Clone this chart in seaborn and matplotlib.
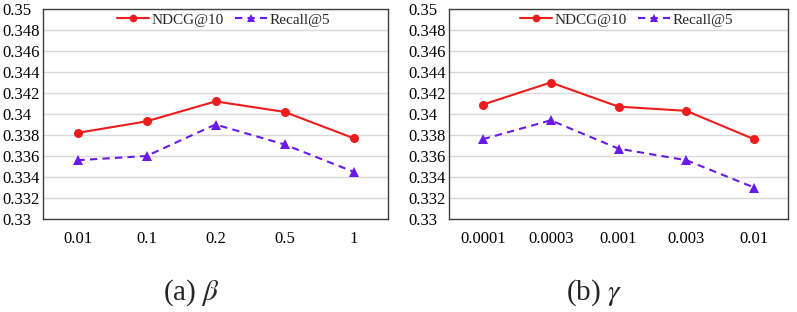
import matplotlib
matplotlib.use("Agg")
import matplotlib.pyplot as plt
import seaborn as sns
import pandas as pd

beta_labels = ["0.01", "0.1", "0.2", "0.5", "1"]
beta_ndcg = [0.3382, 0.3393, 0.3412, 0.3402, 0.3377]
beta_recall = [0.3356, 0.3360, 0.3390, 0.3371, 0.3345]

gamma_labels = ["0.0001", "0.0003", "0.001", "0.003", "0.01"]
gamma_ndcg = [0.3409, 0.3430, 0.3407, 0.3403, 0.3376]
gamma_recall = [0.3376, 0.3394, 0.3367, 0.3356, 0.3330]

y_ticks = [0.33, 0.332, 0.334, 0.336, 0.338, 0.34, 0.342, 0.344, 0.346, 0.348, 0.35]
y_tick_labels = ["0.33", "0.332", "0.334", "0.336", "0.338", "0.34", "0.342", "0.344", "0.346", "0.348", "0.35"]
captions = ["(a) ", "(b) "]
symbols = [r"$\beta$", r"$\gamma$"]

sns.set_theme(style="white")
plt.rcParams["font.family"] = ["Liberation Serif", "DejaVu Serif"]
plt.rcParams["mathtext.fontset"] = "stix"

RED = "#EE1C1C"
PURPLE = "#6A1AE8"

fig = plt.figure(figsize=(7.97, 3.12), dpi=100)
W, H = 797, 312
panels = [
    (43, 388, 191, beta_labels, beta_ndcg, beta_recall),
    (449, 788, 594, gamma_labels, gamma_ndcg, gamma_recall),
]
for i, (x0, x1, cap_x, labels, nd, rc) in enumerate(panels):
    ax = fig.add_axes([x0 / W, 1 - 219 / H, (x1 - x0) / W, (219 - 9) / H])
    df = pd.DataFrame({"x": list(range(len(labels))) * 2,
                       "v": nd + rc,
                       "s": ["NDCG@10"] * len(nd) + ["Recall@5"] * len(rc)})
    sns.lineplot(data=df, x="x", y="v", hue="s", style="s",
                 palette=[RED, PURPLE], markers=["o", "^"],
                 dashes=[(None, None), (3.5, 2.5)], markersize=6.5, linewidth=1.5,
                 markeredgewidth=0, ax=ax, legend=True)
    ax.set_xlim(-0.5, len(labels) - 0.5)
    ax.set_ylim(0.33, 0.35)
    ax.set_yticks(y_ticks)
    ax.set_yticklabels(y_tick_labels, fontsize=12, ha="left")
    ax.set_xticks(range(len(labels)))
    ax.set_xticklabels(labels, fontsize=12)
    ax.set_xlabel("")
    ax.set_ylabel("")
    ax.yaxis.grid(True, color="#D9D9D9", linewidth=1)
    ax.set_axisbelow(True)
    for sp in ax.spines.values():
        sp.set_color("#404040")
        sp.set_linewidth(1.0)
    ax.tick_params(axis="y", length=0, pad=41 * 0.72, colors="black")
    ax.tick_params(axis="x", length=0, pad=8.5, colors="black")
    leg = ax.legend(loc="center", bbox_to_anchor=(0.5 + 8 / (x1 - x0), 1 - 11 / 210), ncol=2,
                    frameon=False, fontsize=11, handlelength=2.1,
                    columnspacing=0.7, handletextpad=0.15, borderaxespad=0.0,
                    markerscale=0.85)
    fig.text(cap_x / W, 1 - 293 / H, captions[i] + symbols[i],
             ha="center", va="center", fontsize=21)

fig.savefig("out.png", dpi=100)
